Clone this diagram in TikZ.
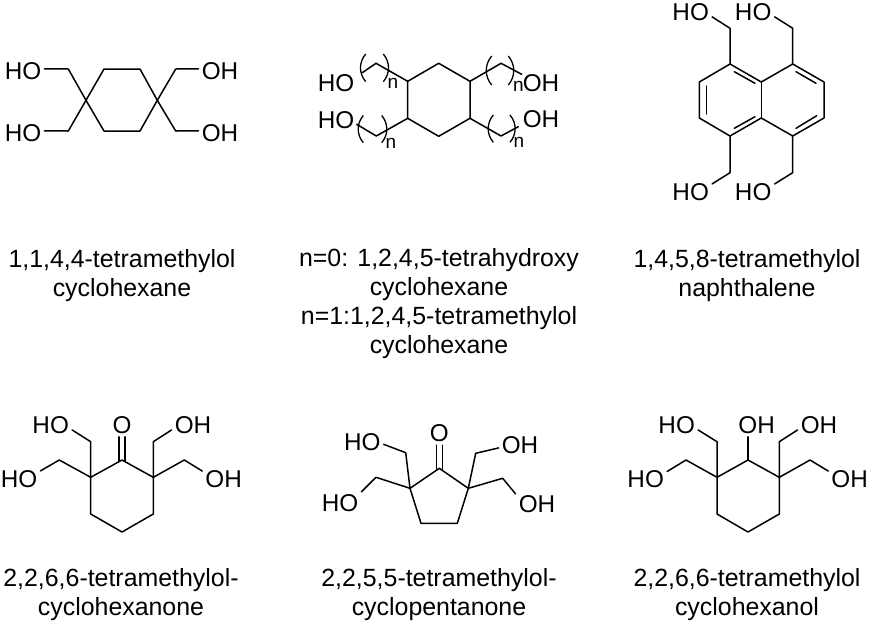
\documentclass[tikz,border=0pt]{standalone}
\usepackage{fontspec}
\setmainfont{Liberation Sans}
\tikzset{
	bond/.style={line width=1.5pt,line join=round,line cap=round},
	paren/.style={line width=1.3pt},
	atom/.style={font=\fontsize{24.3}{25}\selectfont,inner sep=3pt,text height=17.3pt,text depth=0pt},
	subn/.style={font=\fontsize{19}{20}\selectfont,inner sep=0pt},
	caption/.style={font=\fontsize{24.9}{29}\selectfont,align=center,inner sep=0pt}
}
\begin{document}
\begin{tikzpicture}[x=1pt,y=-1pt]
	\useasboundingbox (0,0) rectangle (870,622);
	% tetramethylol cyclohexane
	\coordinate (a1) at (86,100.3);
	\coordinate (a2) at (104,69);
	\coordinate (a3) at (140,69);
	\coordinate (a4) at (157.3,100.3);
	\coordinate (a5) at (140,131);
	\coordinate (a6) at (104,131);
	\coordinate (a7) at (68.3,69);
	\coordinate (a8) at (68.3,131);
	\coordinate (a9) at (175.7,69);
	\coordinate (a10) at (175.7,131);
	\node[atom] (ah1) at (23,70.7) {HO};
	\node[atom] (ah2) at (23,132.7) {HO};
	\node[atom] (ah3) at (220,70.7) {OH};
	\node[atom] (ah4) at (220,132.7) {OH};
	\draw[bond] (a1)--(a2)--(a3)--(a4)--(a5)--(a6)--cycle;
	\draw[bond] (ah1.5)--(a7)--(a1)--(a8)--(ah2.5);
	\draw[bond] (ah3.175)--(a9)--(a4)--(a10)--(ah4.175);
	\node[caption] (cap1) at (122,275.5) {1,1,4,4-tetramethylol\\cyclohexane};
	%
	% tetrahydroxy / tetramethylol cyclohexane with brackets
	\coordinate (b1) at (438.7,63.3);
	\coordinate (b2) at (470,81.3);
	\coordinate (b3) at (470,118.3);
	\coordinate (b4) at (438.7,136.3);
	\coordinate (b5) at (407.7,118.3);
	\coordinate (b6) at (407.7,81.3);
	\draw[bond] (b1)--(b2)--(b3)--(b4)--(b5)--(b6)--cycle;
	\coordinate (b7) at (376,63.3);
	\coordinate (b8) at (362.3,72.7);
	\coordinate (b9) at (501,63.3);
	\coordinate (b10) at (521.7,74.3);
	\coordinate (b11) at (376.3,136);
	\coordinate (b12) at (356.7,124.3);
	\coordinate (b13) at (501,136);
	\coordinate (b14) at (518.3,126.7);
	\draw[bond] (b6)--(b7)--(b8);
	\draw[bond] (b2)--(b9)--(b10);
	\draw[bond] (b5)--(b11)--(b12);
	\draw[bond] (b3)--(b13)--(b14);
	\node[atom] (bh1) at (336,83.3) {HO};
	\node[atom] (bh2) at (336,119.7) {HO};
	\node[atom] (bh3) at (541,83.3) {OH};
	\node[atom] (bh4) at (541,119.3) {OH};
	\node[subn] (bn1) at (393,83) {n};
	\node[subn] (bn2) at (518.3,86.7) {n};
	\node[subn] (bn3) at (391,143.3) {n};
	\node[subn] (bn4) at (519,142.3) {n};
	\foreach \k/\xa/\ya/\yb/\side in {1/365.7/54/81.7/right,2/383.3/54/81.7/left,3/491.7/56/85/right,4/508.3/56/85/left,5/363.3/115.5/142.7/right,6/381.7/115.5/142.7/left,7/493.3/115/142.3/right,8/510/115/142.3/left}{
		\coordinate (pa\k) at (\xa,\ya);
		\coordinate (pb\k) at (\xa,\yb);
		\draw[paren] (pa\k) to[bend \side=40] (pb\k);
	}
	\node[caption] (cap2) at (439,304) {n=0: 1,2,4,5-tetrahydroxy\\cyclohexane\\n=1:1,2,4,5-tetramethylol\\cyclohexane};
	%
	% tetramethylol naphthalene
	\coordinate (c1) at (730,64);
	\coordinate (c2) at (761.3,82);
	\coordinate (c3) at (792.7,64);
	\coordinate (c4) at (824,82);
	\coordinate (c5) at (824,118);
	\coordinate (c6) at (792.7,136);
	\coordinate (c7) at (761.3,118);
	\coordinate (c8) at (730,136);
	\coordinate (c9) at (699.3,118);
	\coordinate (c10) at (699.3,82);
	\draw[bond] (c1)--(c2)--(c3)--(c4)--(c5)--(c6)--(c7)--(c8)--(c9)--(c10)--cycle;
	\draw[bond] (c2)--(c7);
	\coordinate (d1) at (706.7,86);
	\coordinate (d2) at (706.7,114);
	\coordinate (d3) at (734.3,71.7);
	\coordinate (d4) at (755,83.3);
	\coordinate (d5) at (734.3,128.3);
	\coordinate (d6) at (755,116.7);
	\coordinate (d7) at (796,71.7);
	\coordinate (d8) at (816,83.3);
	\coordinate (d9) at (796,128.3);
	\coordinate (d10) at (816.7,115.7);
	\draw[bond] (d1)--(d2);
	\draw[bond] (d3)--(d4);
	\draw[bond] (d5)--(d6);
	\draw[bond] (d7)--(d8);
	\draw[bond] (d9)--(d10);
	\coordinate (e1) at (730,28.3);
	\coordinate (e2) at (792.7,28.3);
	\coordinate (e3) at (730,172.7);
	\coordinate (e4) at (792.7,172.7);
	\node[atom] (ch1) at (690.7,12.3) {HO};
	\node[atom] (ch2) at (753.2,12.3) {HO};
	\node[atom] (ch3) at (690.7,191.7) {HO};
	\node[atom] (ch4) at (753.2,191.7) {HO};
	\draw[bond] (c1)--(e1)--(ch1.-12);
	\draw[bond] (c3)--(e2)--(ch2.-12);
	\draw[bond] (c8)--(e3)--(ch3.20);
	\draw[bond] (c6)--(e4)--(ch4.20);
	\node[caption] (cap3) at (747,275.5) {1,4,5,8-tetramethylol\\naphthalene};
	%
	% tetramethylol cyclohexanone
	\coordinate (f1) at (122,460);
	\coordinate (f2) at (153.3,477.3);
	\coordinate (f3) at (153.3,514);
	\coordinate (f4) at (122,532);
	\coordinate (f5) at (90.7,514);
	\coordinate (f6) at (90.7,477.3);
	\draw[bond] (f1)--(f2)--(f3)--(f4)--(f5)--(f6)--cycle;
	\coordinate (f7) at (90.7,441.7);
	\coordinate (f8) at (59.3,460);
	\coordinate (f9) at (153.3,441.7);
	\coordinate (f10) at (184.3,460);
	\node[atom] (fo) at (122,425) {O};
	\node[atom] (fh1) at (50.7,425) {HO};
	\node[atom] (fh2) at (19,478.7) {HO};
	\node[atom] (fh3) at (193,425) {OH};
	\node[atom] (fh4) at (223.7,479.3) {OH};
	\draw[bond] ([xshift=-3pt,yshift=-1.5pt]f1)--([xshift=-3pt]fo.south);
	\draw[bond] ([xshift=3pt,yshift=-1.5pt]f1)--([xshift=3pt]fo.south);
	\draw[bond] (f6)--(f7)--(fh1.-13);
	\draw[bond] (f6)--(f8)--(fh2.20);
	\draw[bond] (f2)--(f9)--(fh3.193);
	\draw[bond] (f2)--(f10)--(fh4.159);
	\node[caption] (cap4) at (121,595) {2,2,6,6-tetramethylol-\\cyclohexanone};
	%
	% tetramethylol cyclopentanone
	\coordinate (g1) at (439.3,468.3);
	\coordinate (g2) at (468.3,488.3);
	\coordinate (g3) at (457.3,523.3);
	\coordinate (g4) at (421,523.3);
	\coordinate (g5) at (410,488.3);
	\draw[bond] (g1)--(g2)--(g3)--(g4)--(g5)--cycle;
	\coordinate (g6) at (405.7,452.7);
	\coordinate (g7) at (376,477.3);
	\coordinate (g8) at (475.7,453.3);
	\coordinate (g9) at (502.7,478.3);
	\node[atom] (go) at (439.3,433.3) {O};
	\node[atom] (gh1) at (362.3,441.7) {HO};
	\node[atom] (gh2) at (340,502.7) {HO};
	\node[atom] (gh3) at (520,445.3) {OH};
	\node[atom] (gh4) at (537,504.3) {OH};
	\draw[bond] ([xshift=-3pt,yshift=-2pt]g1)--([xshift=-3pt]go.south);
	\draw[bond] ([xshift=3pt,yshift=-2pt]g1)--([xshift=3pt]go.south);
	\draw[bond] (g5)--(g6)--(gh1.-7);
	\draw[bond] (g5)--(g7)--(gh2.27);
	\draw[bond] (g2)--(g8)--(gh3.187);
	\draw[bond] (g2)--(g9)--(gh4.154);
	\node[caption] (cap5) at (439,595) {2,2,5,5-tetramethylol-\\cyclopentanone};
	%
	% tetramethylol cyclohexanol
	\coordinate (h1) at (748,460);
	\coordinate (h2) at (779.3,477.3);
	\coordinate (h3) at (779.3,514);
	\coordinate (h4) at (748,532);
	\coordinate (h5) at (717,514);
	\coordinate (h6) at (717,477.3);
	\draw[bond] (h1)--(h2)--(h3)--(h4)--(h5)--(h6)--cycle;
	\coordinate (h7) at (717,441.7);
	\coordinate (h8) at (686,460);
	\coordinate (h9) at (779.3,441.7);
	\coordinate (h10) at (810,460);
	\node[atom] (ho) at (756.7,425) {OH};
	\node[atom] (hh1) at (676.7,425) {HO};
	\node[atom] (hh2) at (645.7,479.3) {HO};
	\node[atom] (hh3) at (819,425) {OH};
	\node[atom] (hh4) at (849.7,479.3) {OH};
	\draw[bond] (h1)--(h1 |- ho.south);
	\draw[bond] (h6)--(h7)--(hh1.-13);
	\draw[bond] (h6)--(h8)--(hh2.20);
	\draw[bond] (h2)--(h9)--(hh3.193);
	\draw[bond] (h2)--(h10)--(hh4.159);
	\node[caption] (cap6) at (747,595) {2,2,6,6-tetramethylol\\cyclohexanol};
\end{tikzpicture}
\end{document}
